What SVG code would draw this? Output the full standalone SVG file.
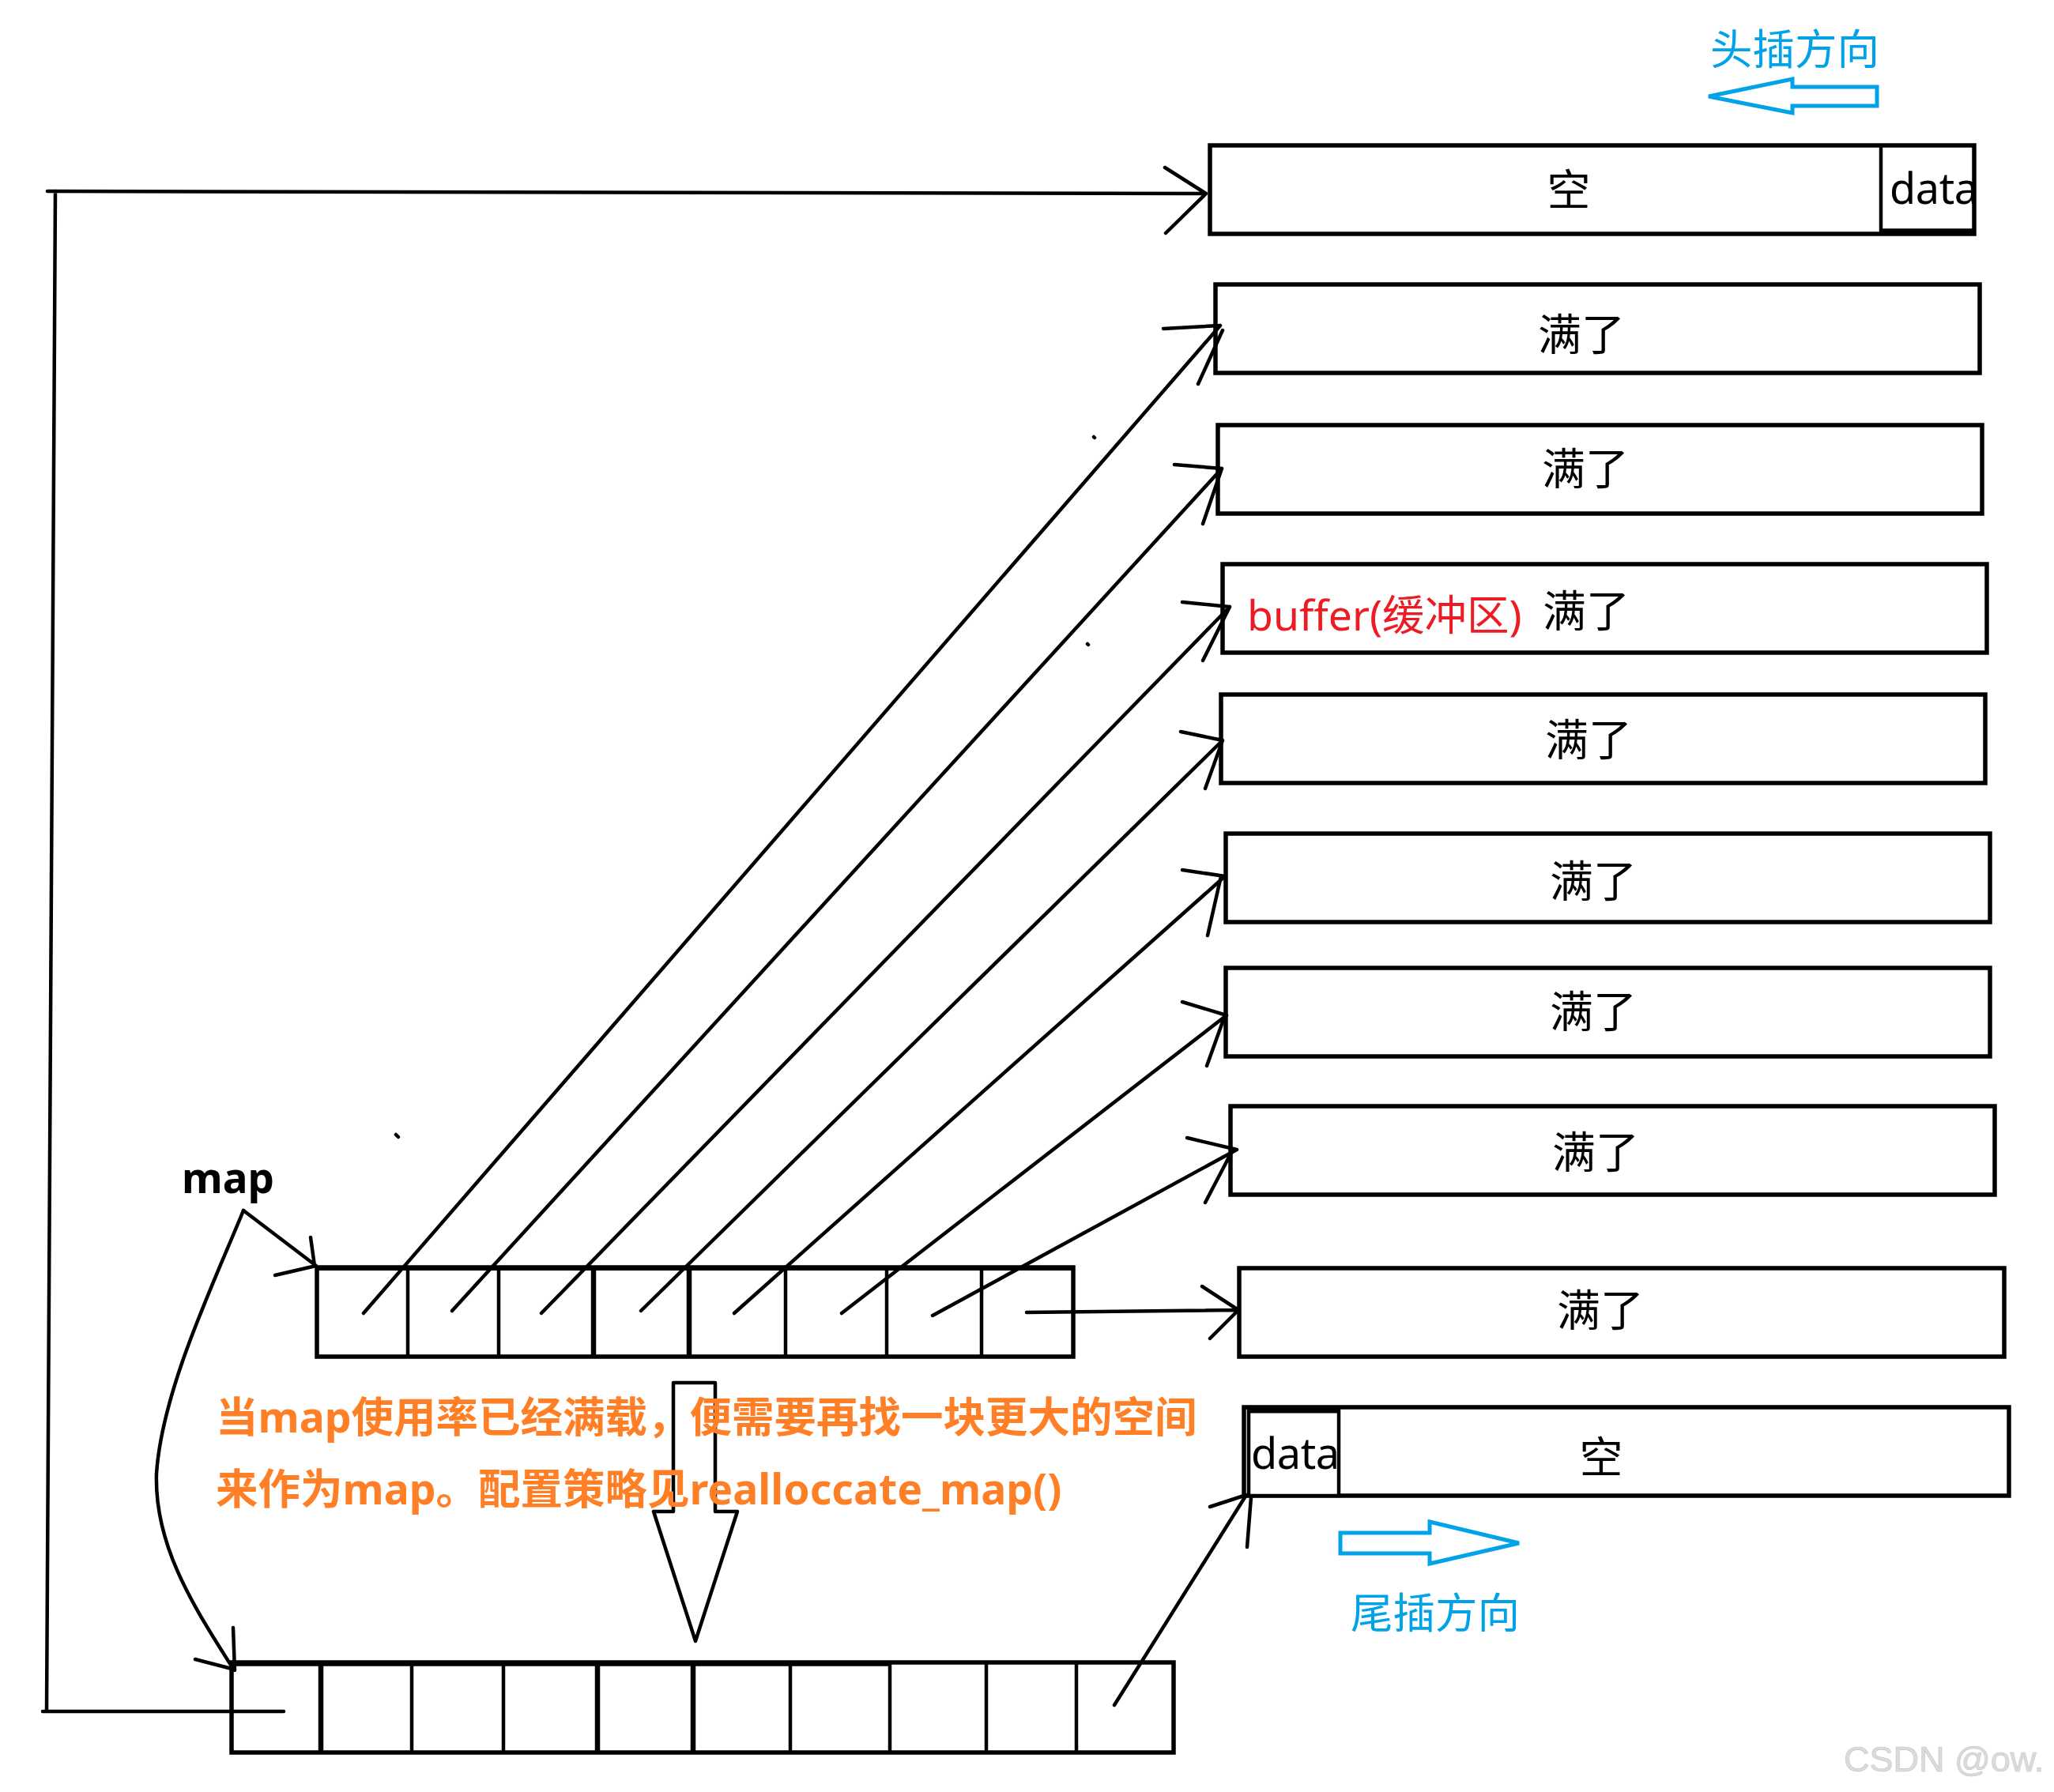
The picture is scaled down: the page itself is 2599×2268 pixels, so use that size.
<svg xmlns="http://www.w3.org/2000/svg" width="2599" height="2268" viewBox="0 0 2599 2268">
<style>
.b{fill:#fff;stroke:#000;stroke-width:5.5}
.d{fill:none;stroke:#000;stroke-width:4.5}
.h{stroke-width:6.5}
.c{fill:none;stroke:#000;stroke-width:4.5;stroke-linecap:round;stroke-linejoin:round}
.a{fill:#fff;stroke:#00a2e8;stroke-width:5}
text{font-family:"Noto Sans","Noto Sans CJK SC",sans-serif;font-size:54px;fill:#000}
.m{text-anchor:middle;font-family:"Noto Sans CJK SC","Noto Sans",sans-serif;font-size:55px}
.l{fill:#00a2e8;font-family:"Noto Sans CJK SC",sans-serif;font-size:53.5px}
.o{fill:#ff7f27;font-weight:700;font-size:53.5px;font-family:"Noto Sans","Noto Sans CJK SC",sans-serif}
</style>
<rect width="2599" height="2268" fill="#fff"/>
<g id="box0"><rect class="b" x="1531" y="184" width="967" height="112"/><path class="d" d="M2380 184V294"/><path d="M2380 292H2498" stroke="#000" stroke-width="5.5"/><text class="m" x="1985" y="260">空</text><text x="2391" y="258" textLength="112">data</text></g>
<g id="box1"><rect class="b" x="1538" y="360" width="967" height="112"/><text class="m" x="2001" y="443">满了</text></g>
<g id="box2"><rect class="b" x="1541" y="538" width="967" height="112"/><text class="m" x="2006" y="613">满了</text></g>
<g id="box3"><rect class="b" x="1547" y="714" width="967" height="112"/><text class="m" x="2007" y="793">满了</text><text x="1578" y="798" style="fill:#ed1c24;font-size:53.5px;font-family:'Noto Sans','Noto Sans CJK SC',sans-serif">buffer(缓冲区)</text></g>
<g id="box4"><rect class="b" x="1545" y="879" width="967" height="112"/><text class="m" x="2010" y="956">满了</text></g>
<g id="box5"><rect class="b" x="1551" y="1055" width="967" height="112"/><text class="m" x="2016" y="1135">满了</text></g>
<g id="box6"><rect class="b" x="1551" y="1225" width="967" height="112"/><text class="m" x="2016" y="1300">满了</text></g>
<g id="box7"><rect class="b" x="1557" y="1400" width="967" height="112"/><text class="m" x="2019" y="1478">满了</text></g>
<g id="box8"><rect class="b" x="1568" y="1605" width="968" height="112"/><text class="m" x="2025" y="1678">满了</text></g>
<g id="box9"><rect class="b" x="1574" y="1781" width="968" height="112"/><rect x="1580" y="1785" width="114" height="108" fill="#fff" stroke="#000" stroke-width="4.5"/><path d="M1578 1785H1694" stroke="#000" stroke-width="7"/><text class="m" x="2026" y="1864">空</text><text x="1583" y="1859" textLength="112">data</text></g>
<g id="map1"><rect class="b" x="401" y="1604" width="957" height="113"/><path class="d" d="M516 1604V1717M631 1604V1717M994 1604V1717M1122 1604V1717M1242 1604V1717"/><path class="d h" d="M751 1604V1717M872 1604V1717"/><path d="M401 1605H1358" stroke="#000" stroke-width="6"/></g>
<g id="map2"><rect class="b" x="293" y="2104" width="1192" height="114"/><path class="d" d="M521 2104V2218M637 2104V2218M1000 2104V2218M1126 2104V2218M1248 2104V2218M1362 2104V2218"/><path class="d h" d="M406 2104V2218M756 2104V2218M877 2104V2218"/><path d="M293 2106H1126" stroke="#000" stroke-width="5.5"/></g>
<g id="label-map"><text x="230" y="1510" style="font-weight:700;font-size:53px">map</text></g>
<g id="big-arrow"><path class="c" d="M852 1750H905V1913H933L880 2077L827 1913H852Z"/></g>
<g id="head-dir"><path class="a" d="M2162 122L2268 100V110H2375V134H2268V143Z"/><text class="l" x="2164" y="82">头插方向</text></g>
<g id="tail-dir"><path class="a" d="M1696 1940H1809V1926L1922 1953L1809 1979V1966H1696Z"/><text class="l" x="1709" y="2061">尾插方向</text></g>
<g id="note"><text class="o" x="273" y="1813">当map使用率已经满载，便需要再找一块更大的空间</text><text class="o" x="273" y="1904">来作为map。配置策略见realloccate_map()</text></g>
<g id="connectors">
<path class="c" d="M60 242L1525 245M1474 212L1526 245L1475 295M70 242L59 2165M54 2166H359"/>
<path class="c" d="M460 1662L1544 412M1472 416L1544 412M1516 486L1547 418"/>
<path class="c" d="M572 1659L1546 593M1486 588L1546 593M1522 663L1546 593"/>
<path class="c" d="M685 1662L1556 768M1496 762L1556 768M1522 836L1556 768"/>
<path class="c" d="M811 1659L1547 937M1494 926L1547 937M1525 998L1547 937"/>
<path class="c" d="M929 1662L1550 1109M1496 1101L1550 1109M1528 1184L1545 1109"/>
<path class="c" d="M1065 1662L1552 1285M1496 1268L1552 1285M1527 1349L1550 1285"/>
<path class="c" d="M1180 1665L1565 1455M1502 1440L1565 1455M1525 1522L1560 1455"/>
<path class="c" d="M1299 1661L1567 1658M1521 1628L1567 1658L1531 1694"/>
<path class="c" d="M1410 2158L1577 1892M1531 1907L1577 1892M1578 1958L1583 1895"/>
<path class="c" d="M308 1532L400 1602M393 1566L398 1602M348 1614L400 1602"/>
<path class="c" d="M308 1532C270 1625 205 1760 198 1865C195 1960 250 2040 295 2112M295 2060L297 2114M247 2100L297 2113"/>
<path class="c" d="M1384 553l1 1M1376 815l1 1M501 1436l3 3"/>
</g>
<g id="watermark"><text x="2333" y="2242" style="font-family:'Liberation Sans',sans-serif;font-size:45px;fill:#dcdcdc;stroke:#c4c4c4;stroke-width:.6">CSDN @ow.</text></g>
</svg>
